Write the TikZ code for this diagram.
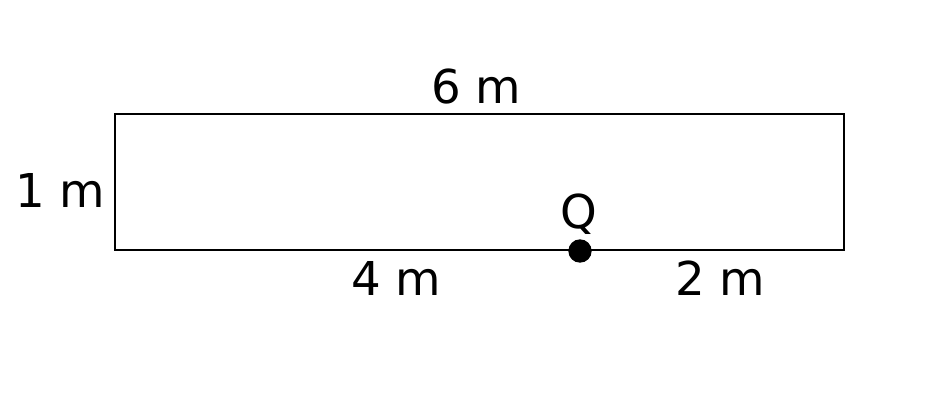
\documentclass[tikz,border=0pt]{standalone}
\usepackage{fontspec}
\setmainfont{DejaVu Sans}
\begin{document}
\begin{tikzpicture}[x=0.75pt,y=-0.75pt,
  lbl/.style={anchor=base,inner sep=0pt,font=\fontsize{35}{40}\selectfont},
  box/.style={draw=black,line width=1.7pt}]
\useasboundingbox (0,0) rectangle (934,400);
\coordinate (tl) at (115,114);
\coordinate (br) at (844,250);
\draw[box] (tl) rectangle (br);
\node[circle,fill=black,inner sep=0pt,minimum size=17.5pt] (q) at (580,251) {};
\node[lbl] (six) at (476,103) {6 m};
\node[lbl] (one) at (60,207) {1 m};
\node[lbl] (qlbl) at (579,228) {Q};
\node[lbl] (four) at (396,295) {4 m};
\node[lbl] (two) at (720,295) {2 m};
\end{tikzpicture}
\end{document}
